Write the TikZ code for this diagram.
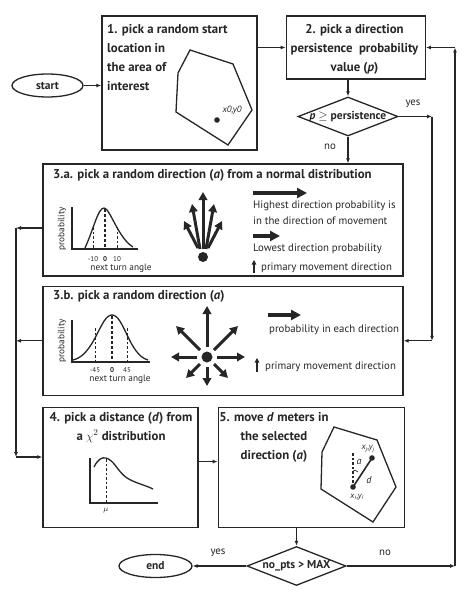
\documentclass[tikz,border=0pt]{standalone}
\usepackage{fontspec}
\setmainfont{PT Sans}
\usetikzlibrary{positioning}
\usetikzlibrary{calc}
\usetikzlibrary{shapes.geometric}
\usetikzlibrary{arrows.meta}
\definecolor{ink}{RGB}{38, 38, 38}
\tikzstyle{stepbox} = [
	draw=ink,
	line width=1.3pt,
	inner sep=0pt
]
\tikzstyle{decision} = [
	diamond,
	draw=ink,
	line width=1.3pt,
	inner sep=0pt
]
\tikzstyle{terminal} = [
	ellipse,
	draw=ink,
	line width=1.3pt,
	inner sep=0pt,
	text=ink,
	font=\bfseries\fontsize{11.5}{12}\selectfont
]
\tikzstyle{title} = [
	text=ink,
	inner sep=0pt,
	font=\bfseries\fontsize{12.8}{19}\selectfont
]
\tikzstyle{note} = [
	text=ink,
	inner sep=0pt,
	font=\fontsize{10.8}{12}\selectfont
]
\tikzstyle{axislabel} = [
	text=ink,
	inner sep=0pt,
	font=\fontsize{9.3}{11}\selectfont
]
\tikzstyle{tick} = [
	text=ink,
	inner sep=0pt,
	font=\fontsize{7}{8}\selectfont
]
\tikzstyle{flow} = [
	draw=ink,
	line width=1.1pt,
	-{Latex[length=5pt,width=4pt]}
]
\tikzstyle{heavy} = [
	draw=ink,
	line width=3pt,
	-{Triangle[length=8pt,width=8.5pt]}
]
\tikzstyle{legend} = [
	draw=ink,
	line width=3.6pt,
	-{Triangle[length=10pt,width=10pt]}
]
\tikzstyle{slim} = [
	draw=ink,
	line width=1.1pt,
	-{Triangle[length=4.5pt,width=4.5pt]}
]
\tikzstyle{curve} = [
	draw=ink,
	line width=1.3pt
]
\tikzstyle{guide} = [
	draw=ink,
	line width=0.8pt,
	dash pattern=on 2.5pt off 2pt
]
\tikzstyle{guidebold} = [
	draw=ink,
	line width=1.5pt,
	dash pattern=on 3pt off 2pt
]

\begin{document}
\begin{tikzpicture}[x=1pt, y=-1pt]
	\useasboundingbox (0,0) rectangle (474,594);

	%
	% Start and step 1
	\node[terminal, minimum width=71pt, minimum height=23pt] (start) at (47.5,85.5) {start};
	\node[stepbox, minimum width=155pt, minimum height=134pt] (s1) at (179.5,83) {};
	\node[title, align=left, anchor=north west] (s1text) at (107,24) {1. pick a random start\\location in\\the area of\\interest};
	\draw[curve] (190,50) -- (233,64) -- (252,110) -- (228,145) -- (176,112) -- (178,73) -- cycle;
	\fill[ink] (217,120) circle (2.8pt);
	\node[note, font=\itshape\fontsize{9}{10}\selectfont] (xy0) at (232,110) {x0,y0};

	%
	% Step 2 and persistence test
	\node[stepbox, minimum width=139pt, minimum height=63pt, right=28pt of s1.north east, anchor=north west] (s2) {};
	\node[title, align=center, anchor=north] (s2text) at (354.5,24) {2. pick a direction\\persistence\ \ probability\\value (\textit{p})};
	\node[decision, minimum width=100pt, minimum height=39pt] (p1) at (348,116.5) {};
	\node[title, font=\bfseries\fontsize{11.5}{12}\selectfont] (p1text) at (p1) {\textit{p} $\geq$ persistence};

	%
	% Step 3.a
	\node[stepbox, minimum width=360pt, minimum height=112pt] (s3a) at (223,220) {};
	\node[title, anchor=base west] (s3atext) at (53,178.5) {3.a. pick a random direction (\textit{a}) from a normal distribution};
	\draw[curve, line width=1.2pt] (72,207) -- (72,249) -- (138,249);
	\draw[curve] (85,248) .. controls (94,228) and (98,208) .. (104,208) .. controls (110,208) and (118,238) .. (133,247);
	\draw[guide] (93,227) -- (93,249);
	\draw[guide] (117,227) -- (117,249);
	\draw[guidebold] (105,209) -- (105,249);
	\node[axislabel, rotate=90] (prob3a) at (62,229) {probability};
	\node[tick] (m10) at (93,259) {-10};
	\node[tick, font=\bfseries\fontsize{7}{8}\selectfont] (z3a) at (105,259) {0};
	\node[tick] (p10) at (117,259) {10};
	\node[axislabel, anchor=base] (turn3a) at (121,270) {next turn angle};
	\fill[ink] (203,257) circle (5pt);
	\draw[heavy] (203,249) -- (203,192);
	\draw[heavy] (200,249) -- (192,204);
	\draw[heavy] (206,249) -- (214,204);
	\draw[heavy] (198,248) -- (184,221);
	\draw[heavy] (208,248) -- (222,221);
	\draw[legend] (253,193) -- (307,193);
	\node[note, anchor=base west] (hi1) at (253,208.5) {Highest direction probability is};
	\node[note, anchor=base west] (hi2) at (253,224.5) {in the direction of movement};
	\draw[legend] (253,236) -- (280,236);
	\node[note, anchor=base west] (lo1) at (253,251.5) {Lowest direction probability};
	\draw[slim] (254,273) -- (254,260);
	\node[note, anchor=base west] (pm3a) at (261,270) {primary movement direction};

	%
	% Step 3.b
	\node[stepbox, minimum width=360pt, minimum height=109pt, below=9pt of s3a] (s3b) {};
	\node[title, anchor=base west] (s3btext) at (53,299.5) {3.b. pick a random direction (\textit{a})};
	\draw[curve, line width=1.2pt] (72,320) -- (72,362) -- (150,362);
	\draw[curve] (73,360) .. controls (95,355) and (100,315) .. (112,315) .. controls (124,315) and (129,355) .. (148,360);
	\draw[guide] (95,328) -- (95,362);
	\draw[guide] (127,328) -- (127,362);
	\draw[guidebold] (112,316) -- (112,362);
	\node[axislabel, rotate=90] (prob3b) at (62,341) {probability};
	\node[tick] (m45) at (95,370) {-45};
	\node[tick, font=\bfseries\fontsize{7}{8}\selectfont] (z3b) at (112,370) {0};
	\node[tick] (p45) at (127,370) {45};
	\node[axislabel, anchor=base] (turn3b) at (120,381) {next turn angle};
	\fill[ink] (207,357) circle (5.5pt);
	\draw[heavy] (207,347) -- (207,306);
	\draw[heavy] (200,350) -- (176,326);
	\draw[heavy] (214,350) -- (238,326);
	\draw[heavy] (197,357) -- (171,357);
	\draw[heavy] (217,357) -- (245,357);
	\draw[heavy] (200,364) -- (186,378);
	\draw[heavy] (207,367) -- (207,386);
	\draw[heavy] (214,364) -- (228,378);
	\draw[legend] (268,315) -- (301,315);
	\node[note, anchor=base west] (each) at (269,332.5) {probability in each direction};
	\draw[slim] (257,372) -- (257,358);
	\node[note, anchor=base west] (pm3b) at (265,369.5) {primary movement direction};

	%
	% Step 4
	\node[stepbox, minimum width=155pt, minimum height=120pt, below=11pt of s3b.south west, anchor=north west] (s4) {};
	\node[title, align=center, anchor=north] (s4text) at (121,412) {4. pick a distance (\textit{d}) from\\a $\chi^2$ distribution};
	\draw[curve, line width=1.2pt] (90,458) -- (90,503) -- (158,503);
	\draw[curve] (94,467) .. controls (98,459) and (102,457) .. (106,458) .. controls (114,460) and (118,472) .. (127,478) .. controls (135,483) and (145,485) .. (153,489);
	\draw[guide] (106,459) -- (106,503);
	\node[tick, font=\bfseries\fontsize{8}{9}\selectfont] (mu) at (106,511) {$\mu$};

	%
	% Step 5
	\node[stepbox, minimum width=186pt, minimum height=120pt, right=19pt of s4] (s5) {};
	\node[title, align=center, anchor=north] (s5text) at (274,412) {5. move \textit{d} meters in\\the selected\\direction (\textit{a})};
	\draw[curve] (334,427) -- (377,440) -- (396,487) -- (373,522) -- (321,489) -- (322,452) -- cycle;
	\draw[guide, line width=1.1pt] (353,487) -- (353,452);
	\draw[curve, line width=1.6pt] (353,487) -- (372,458);
	\draw[ink, line width=0.7pt] (353,471) .. controls (355,470) .. (358,472);
	\fill[ink] (353,487) circle (2.8pt);
	\fill[ink] (372,458) circle (2.8pt);
	\node[note, font=\itshape\fontsize{8.5}{10}\selectfont] (xj) at (368,449) {x\textsubscript{j},y\textsubscript{j}};
	\node[note, font=\itshape\fontsize{10}{10}\selectfont] (ang) at (359,462) {a};
	\node[note, font=\itshape\fontsize{10}{10}\selectfont] (dist) at (369,480) {d};
	\node[note, font=\itshape\fontsize{8.5}{10}\selectfont] (xi) at (357,497) {x\textsubscript{i},y\textsubscript{i}};

	%
	% Stop test and end
	\node[decision, minimum width=99pt, minimum height=39pt] (p2) at (296.5,566) {};
	\node[title, font=\bfseries\fontsize{11.5}{12}\selectfont] (p2text) at (p2) {no\_pts > MAX};
	\node[terminal, minimum width=73pt, minimum height=23pt] (fin) at (155.5,566) {end};

	%
	% Connectors
	\draw[flow] (start.east) -- (start.east -| s1.west);
	\draw[flow] (s2.west -| s1.east) -- (s2.west);
	\draw[flow] (p1.north |- s2.south) -- (p1.north);
	\draw[flow] (p1.south) -- (p1.south |- s3a.north);
	\node[note] (no1) at (330,147) {no};

	\coordinate (yesc) at (432,116.5);
	\draw[flow] (p1.east) -- (yesc);
	\draw[flow] (yesc) -- (yesc |- s3b.east);
	\draw[flow] (yesc |- s3b.east) -- (s3b.east);
	\node[note] (yes1) at (413,104) {yes};

	\coordinate (lc1) at (16,228);
	\coordinate (lc2) at (16,457);
	\draw[flow] (lc1 -| s3a.west) -- (lc1);
	\draw[flow] (s3b.west) -- (s3b.west -| lc1);
	\draw[flow] (lc1) -- (lc2);
	\draw[flow] (lc2) -- (lc2 -| s4.west);

	\draw[flow] ([yshift=6pt]s4.east) -- ([yshift=6pt]s5.west);
	\draw[flow] (p2.north |- s5.south) -- (p2.north);
	\draw[flow] (p2.west) -- (fin.east);
	\node[note] (yes2) at (218,553) {yes};

	\coordinate (noc) at (455,566);
	\draw[flow] (p2.east) -- (noc);
	\draw[flow] (noc) -- (noc |- s2.east);
	\draw[flow] (noc |- s2.east) -- (s2.east);
	\node[note] (no2) at (385,553) {no};

\end{tikzpicture}
\end{document}
